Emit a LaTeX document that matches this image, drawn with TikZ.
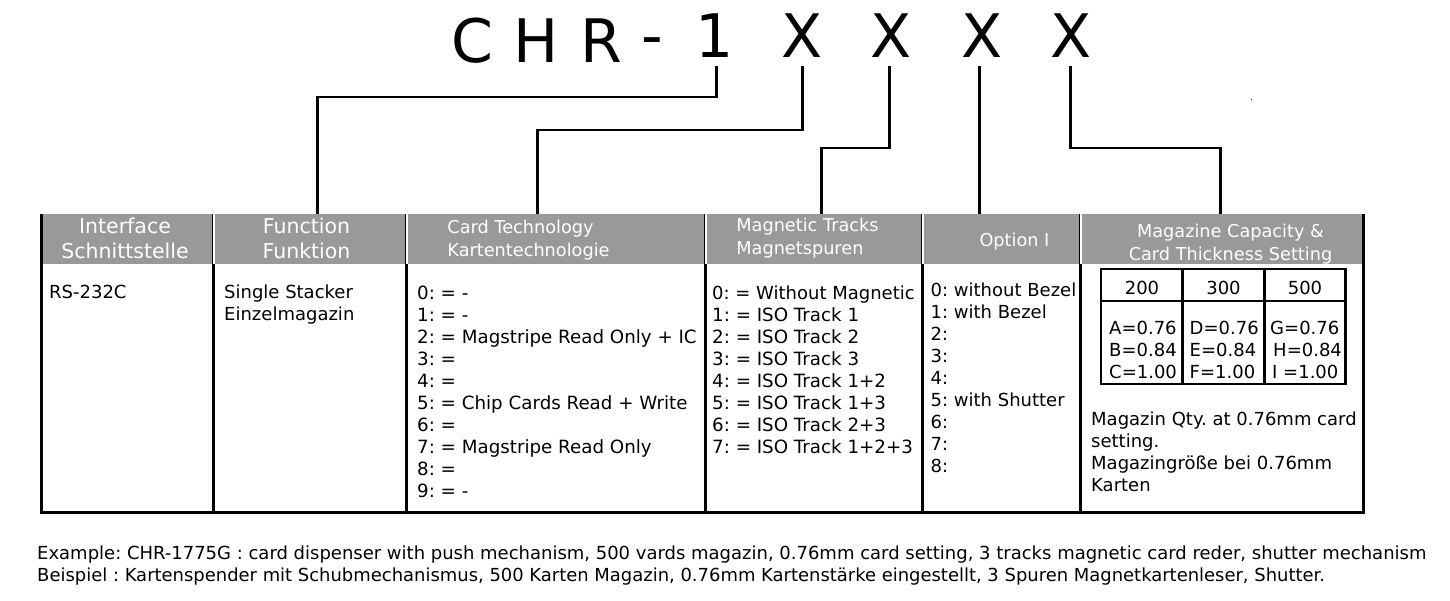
\documentclass[tikz,border=0pt]{standalone}
\usepackage{fontspec}
\setmainfont{DejaVu Sans}
\begin{document}
\frenchspacing
\begin{tikzpicture}[x=1pt,y=-1pt,
 wire/.style={line width=2.9pt,line cap=butt,line join=miter},
 frame/.style={line width=2.9pt},
 hd/.style={anchor=center,align=center,text=white,font=\fontsize{20.5}{25}\selectfont,inner sep=0pt},
 hds/.style={anchor=center,align=center,text=white,font=\fontsize{17.7}{22.5}\selectfont,inner sep=0pt},
 hdl/.style={hds,align=left},
 txt/.style={anchor=base west,font=\fontsize{18}{22}\selectfont,inner sep=0pt},
 txtw/.style={anchor=base west,font=\fontsize{18.25}{22}\selectfont,inner sep=0pt},
 foot/.style={anchor=base west,font=\fontsize{17.95}{22}\selectfont,inner sep=0pt},
 footw/.style={anchor=base west,font=\fontsize{17.99}{22}\selectfont,inner sep=0pt},
 big/.style={anchor=base,font=\fontsize{60}{70}\selectfont,inner sep=0pt}]
\useasboundingbox (0,0) rectangle (1450,600);
\fill[white] (0,0) rectangle (1450,600);
% title
\node[big] (tc) at (472,62) {C};
\node[big] (th) at (536,62) {H};
\node[big] (tr) at (601,62) {R};
\node[big] (td) at (652.5,56) {-};
\node[big] (t1) at (715,57.5) {1};
\node[big] (t2) at (802,57.5) {X};
\node[big] (t3) at (891,57.5) {X};
\node[big] (t4) at (982,57.5) {X};
\node[big] (t5) at (1071,57.5) {X};
% header band
\fill[black!40] (41,214) rectangle (1363,264);
% frame
\draw[frame] (41.3,214) -- (41.3,512.7) -- (1363.8,512.7) -- (1363.8,214);
\foreach \x in {213.8,406.8,705.8,922.8,1080.8}{\draw[frame] (\x,214) -- (\x,512.7);}
\draw[white,line width=2pt] (213.8,214) -- (213.8,264) (406.8,214) -- (406.8,264) (705.8,214) -- (705.8,264) (922.8,214) -- (922.8,264) (1080.8,214) -- (1080.8,264);
% connectors
\coordinate (c1) at (317.8,214);
\coordinate (c2) at (537.8,214);
\coordinate (c3) at (821.8,214);
\coordinate (c4) at (979.8,214);
\coordinate (c5) at (1220.8,214);
\coordinate (s1) at (716.8,66);
\coordinate (s2) at (802.8,66);
\coordinate (s3) at (889.8,66);
\coordinate (s4) at (979.8,66);
\coordinate (s5) at (1070.8,66);
\draw[wire] (s1) |- (317.8,97) -- (c1);
\draw[wire] (s2) |- (537.8,130) -- (c2);
\draw[wire] (s3) |- (821.8,148) -- (c3);
\draw[wire] (s4) -- (c4);
\draw[wire] (s5) |- (1220.8,148) -- (c5);
\fill (1250.5,98.5) rectangle (1251.5,99.5);
% headers
\node[hd] (h1) at (125,238) {Interface\\Schnittstelle};
\node[hd] (h2) at (306.5,238) {Function\\Funktion};
\node[hdl] (h3) at (528.5,240) {Card Technology\\Kartentechnologie};
\node[hdl] (h4) at (807.5,238) {Magnetic Tracks\\Magnetspuren};
\node[hds] (h5) at (1014.5,242) {Option I};
\node[hds] (h6) at (1230.5,244) {Magazine Capacity \&\\Card Thickness Setting};
% col 1,2
\node[txt] (a1) at (49,298) {RS-232C};
\node[txt] (a2) at (224,298) {Single Stacker};
\node[txt] (a3) at (224,320) {Einzelmagazin};
% col 3
\foreach \y/\s [count=\i] in {299/{0: = -},321/{1: = -},343/{2: = Magstripe Read Only + IC},365/{3: =},387/{4: =},409/{5: = Chip Cards Read + Write},431/{6: =},453/{7: = Magstripe Read Only},475/{8: =},497/{9: = -}}
 {\node[txtw] (b\i) at (417,\y) {\s};}
% col 4
\node[txt] (m1) at (712,299) {0: = Without Magnetic};
\foreach \y/\s [count=\i from 2] in {321/{1: = ISO Track 1},343/{2: = ISO Track 2},365/{3: = ISO Track 3},387/{4: = ISO Track 1+2},409/{5: = ISO Track 1+3},431/{6: = ISO Track 2+3},453/{7: = ISO Track 1+2+3}}
 {\node[txtw] (m\i) at (712,\y) {\s};}
% col 5
\foreach \y/\s [count=\i] in {296/{0: without Bezel},318/{1: with Bezel},340/{2:},362/{3:},384/{4:},406/{5: with Shutter},428/{6:},450/{7:},472/{8:}}
 {\node[txt] (o\i) at (930.5,\y) {\s};}
% inner table
\draw[line width=2.7pt] (1101,269) rectangle (1345.5,384);
\draw[line width=2.7pt] (1101,301) -- (1345.5,301) (1182.8,269) -- (1182.8,384) (1264.8,269) -- (1264.8,384);
\node[txt,anchor=base] (q1) at (1142,294) {200};
\node[txt,anchor=base] (q2) at (1223.5,294) {300};
\node[txt,anchor=base] (q3) at (1305,294) {500};
\foreach \y/\s [count=\i] in {334/{A=0.76},356/{B=0.84},378/{C=1.00}}{\node[txt] (ia\i) at (1109,\y) {\s};}
\foreach \y/\s [count=\i] in {334/{D=0.76},356/{E=0.84},378/{F=1.00}}{\node[txt] (ib\i) at (1189.5,\y) {\s};}
\node[txt] (ic1) at (1270,334) {G=0.76};
\node[txt] (ic2) at (1273,356) {H=0.84};
\node[txt] (ic3) at (1272,378) {I =1.00};
% notes
\node[txt] (n1) at (1091,425) {Magazin Qty. at 0.76mm card};
\node[txt] (n2) at (1091,447) {setting.};
\node[txt] (n3) at (1091,469) {Magazingröße bei 0.76mm};
\node[txt] (n4) at (1091,491) {Karten};
% footer
\node[footw] (f1) at (37,559) {Example: CHR-1775G : card dispenser with push mechanism, 500 vards magazin, 0.76mm card setting, 3 tracks magnetic card reder, shutter mechanism};
\node[foot] (f2) at (37,581) {Beispiel : Kartenspender mit Schubmechanismus, 500 Karten Magazin, 0.76mm Kartenstärke eingestellt, 3 Spuren Magnetkartenleser, Shutter.};
\end{tikzpicture}
\end{document}
